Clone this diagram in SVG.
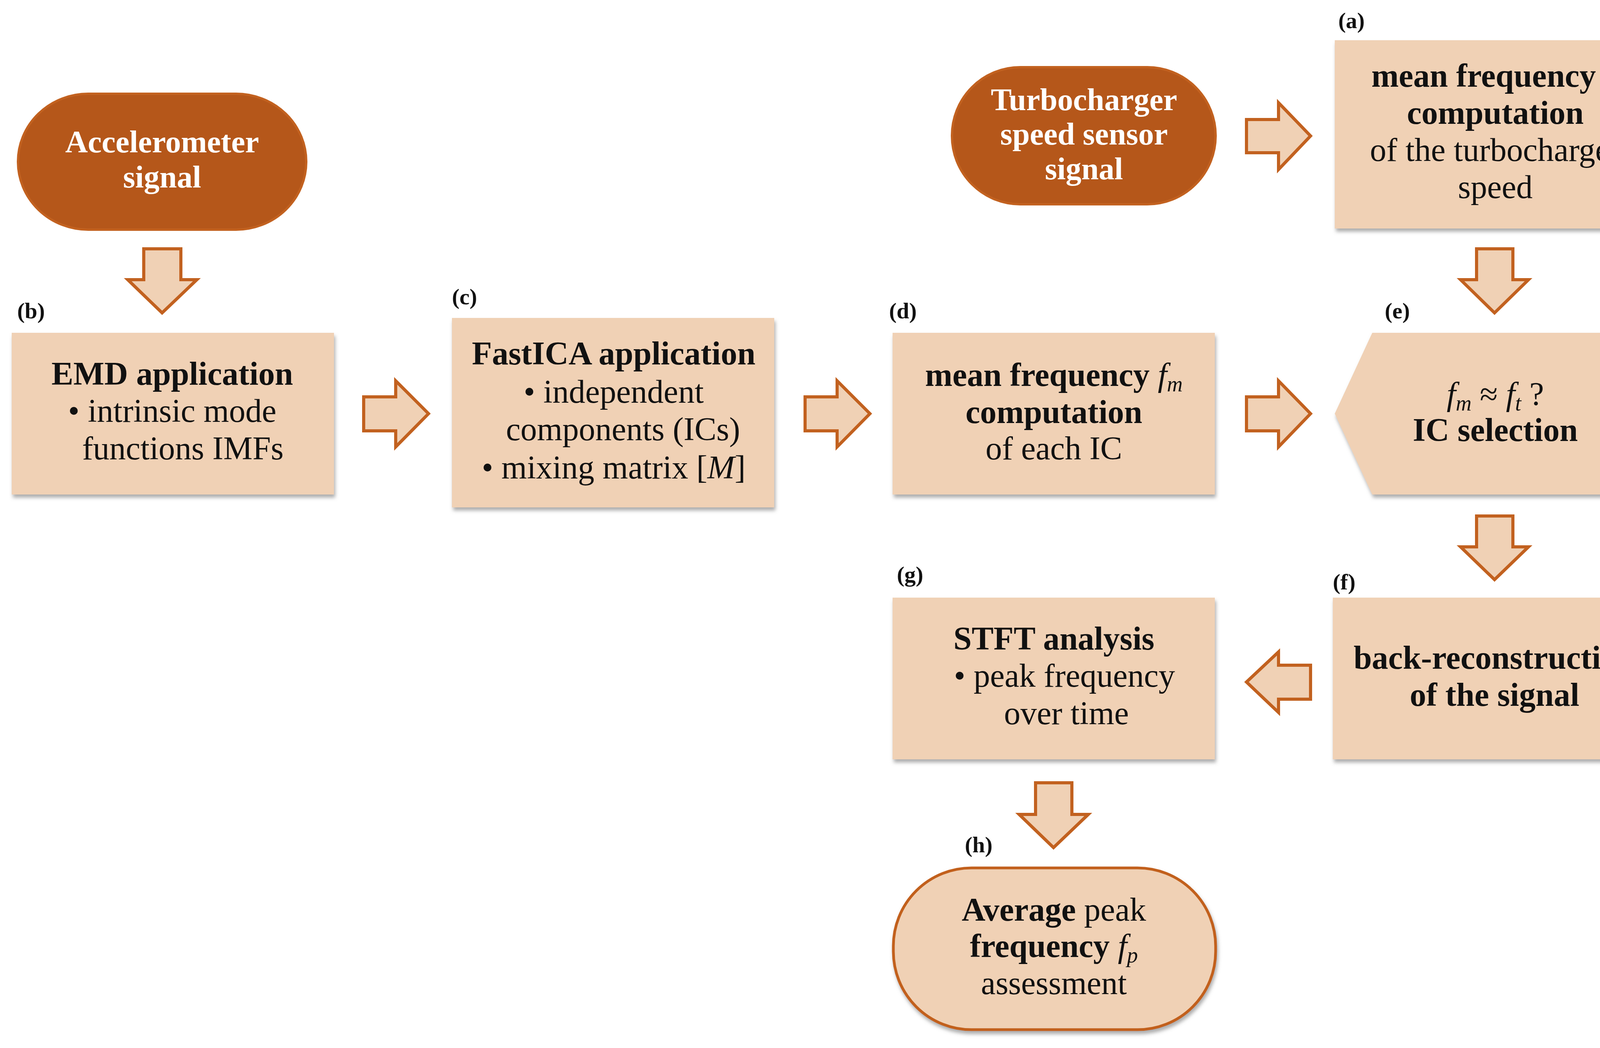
<svg xmlns="http://www.w3.org/2000/svg" width="4269" height="2683" viewBox="0 0 4269 2683">
<style>
.box{fill:#F0D1B5;filter:url(#sh)}
.dark{fill:#B5571A;stroke:#C2611F;stroke-width:6}
.light{fill:#F0D1B5;stroke:#C2611F;stroke-width:7;filter:url(#sh)}
.arr{fill:#F0D1B5;stroke:#C2611F;stroke-width:8;stroke-linejoin:miter}
text{font-family:"Liberation Serif","DejaVu Serif",serif;font-size:84px;text-anchor:middle;fill:#111}
.b{font-weight:bold}
.w{fill:#fff;font-weight:bold;font-size:80px}
.lab{font-size:58px;font-weight:bold;text-anchor:start}
.i{font-style:italic;font-weight:normal}
</style>
<defs>
<filter id="sh" x="-5%" y="-5%" width="115%" height="115%">
<feDropShadow dx="3" dy="8" stdDeviation="5" flood-color="#777" flood-opacity="0.6"/>
</filter>
</defs>
<g id="connectors">
<polygon class="arr" points="368,637 463,637 463,716 504,716 415,801 327,716 368,716"/>
<polygon class="arr" points="931,1016 1013,1016 1013,975 1097,1059 1013,1144 1013,1103 931,1103"/>
<polygon class="arr" points="2061,1016 2143,1016 2143,975 2227,1059 2143,1144 2143,1103 2061,1103"/>
<polygon class="arr" points="3191,1016 3273,1016 3273,975 3355,1059 3273,1144 3273,1103 3191,1103"/>
<polygon class="arr" points="3191,306 3273,306 3273,263 3355,348 3273,434 3273,391 3191,391"/>
<polygon class="arr" points="3780,637 3873,637 3873,716 3913,716 3826,801 3739,716 3780,716"/>
<polygon class="arr" points="3780,1321 3873,1321 3873,1400 3913,1400 3826,1484 3739,1400 3780,1400"/>
<polygon class="arr" points="3355,1703 3273,1703 3273,1669 3191,1746 3273,1824 3273,1790 3355,1790"/>
<polygon class="arr" points="2651,2004 2744,2004 2744,2085 2786,2085 2697,2170 2609,2085 2651,2085"/>
</g>
<g id="accel">
<rect class="dark" x="46" y="240" width="738" height="348" rx="180" ry="174"/>
<text class="w" x="415" y="390">Accelerometer</text>
<text class="w" x="415" y="480">signal</text>
</g>
<g id="turbo">
<rect class="dark" x="2437" y="172" width="675" height="351" rx="175" ry="175"/>
<text class="w" x="2775" y="282">Turbocharger</text>
<text class="w" x="2775" y="370">speed sensor</text>
<text class="w" x="2775" y="459">signal</text>
</g>
<g id="a">
<text class="lab" x="3426" y="72">(a)</text>
<rect class="box" x="3417" y="103" width="823" height="482"/>
<text x="3828" y="222"><tspan class="b">mean frequency </tspan><tspan class="i">f</tspan><tspan class="i" font-size="56" dy="14">t</tspan></text>
<text class="b" x="3828" y="317">computation</text>
<text x="3828" y="412">of the turbocharger</text>
<text x="3828" y="507">speed</text>
</g>
<g id="b">
<text class="lab" x="44" y="815">(b)</text>
<rect class="box" x="30" y="852" width="825" height="414"/>
<text class="b" x="441" y="985">EMD application</text>
<text x="441" y="1080">• intrinsic mode</text>
<text x="468" y="1176">functions IMFs</text>
</g>
<g id="c">
<text class="lab" x="1157" y="779">(c)</text>
<rect class="box" x="1157" y="814" width="825" height="485"/>
<text class="b" x="1571" y="933">FastICA application</text>
<text x="1571" y="1031">• independent</text>
<text x="1595" y="1127">components (ICs)</text>
<text x="1571" y="1225">• mixing matrix [<tspan class="i">M</tspan>]</text>
</g>
<g id="d">
<text class="lab" x="2276" y="815">(d)</text>
<rect class="box" x="2285" y="852" width="825" height="414"/>
<text x="2698" y="988"><tspan class="b">mean frequency </tspan><tspan class="i">f</tspan><tspan class="i" font-size="56" dy="14">m</tspan></text>
<text class="b" x="2698" y="1083">computation</text>
<text x="2698" y="1176">of each IC</text>
</g>
<g id="e">
<text class="lab" x="3545" y="815">(e)</text>
<polygon points="3417,1059 3513,852 4139,852 4240,1059 4139,1266 3513,1266" fill="#F0D1B5" filter="url(#sh)"/>
<text x="3828" y="1037"><tspan class="i">f</tspan><tspan class="i" font-size="56" dy="14">m</tspan><tspan dy="-14"> ≈ </tspan><tspan class="i">f</tspan><tspan class="i" font-size="56" dy="14">t</tspan><tspan dy="-14"> ?</tspan></text>
<text class="b" x="3828" y="1129">IC selection</text>
</g>
<g id="f">
<text class="lab" x="3412" y="1509">(f)</text>
<rect class="box" x="3412" y="1530" width="828" height="414"/>
<text class="b" x="3826" y="1712">back-reconstruction</text>
<text class="b" x="3826" y="1807">of the signal</text>
</g>
<g id="g">
<text class="lab" x="2296" y="1490">(g)</text>
<rect class="box" x="2285" y="1530" width="825" height="414"/>
<text class="b" x="2698" y="1663">STFT analysis</text>
<text x="2725" y="1758">• peak frequency</text>
<text x="2730" y="1854">over time</text>
</g>
<g id="h">
<text class="lab" x="2470" y="2182">(h)</text>
<rect class="light" x="2287" y="2222" width="825" height="414" rx="200" ry="200"/>
<text x="2698" y="2357"><tspan class="b">Average</tspan> peak</text>
<text x="2698" y="2450"><tspan class="b">frequency </tspan><tspan class="i">f</tspan><tspan class="i" font-size="56" dy="14">p</tspan></text>
<text x="2698" y="2545">assessment</text>
</g>
</svg>
